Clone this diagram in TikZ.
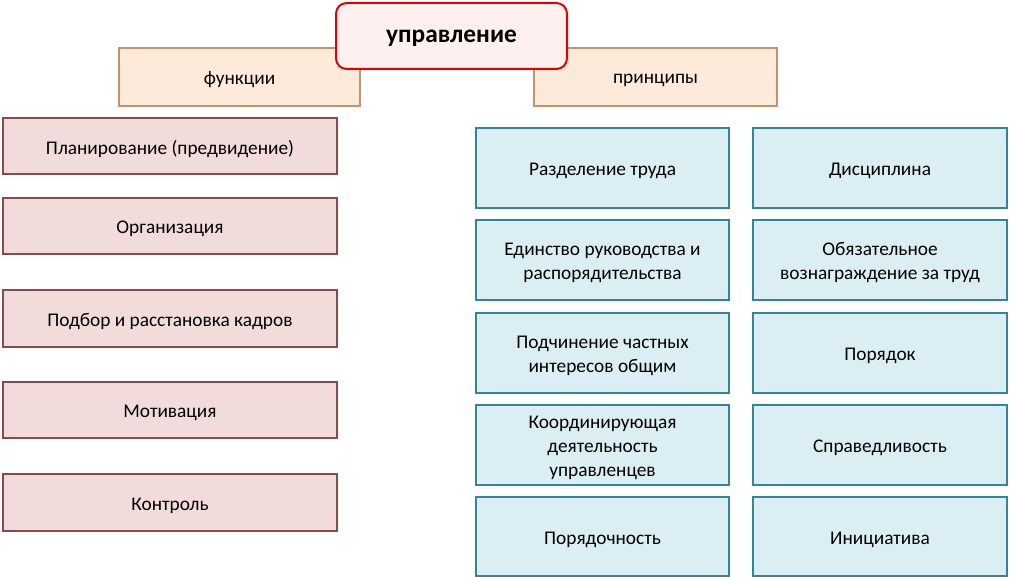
\documentclass[tikz,border=0pt]{standalone}
\usepackage{fontspec}
\setmainfont{Carlito}
\definecolor{fpink}{HTML}{F2DCDB}
\definecolor{fpinkd}{HTML}{8C4A4A}
\definecolor{horg}{HTML}{FDEADA}
\definecolor{horgd}{HTML}{C0946B}
\definecolor{pbl}{HTML}{DBEEF3}
\definecolor{pbld}{HTML}{31859C}
\begin{document}
\begin{tikzpicture}[x=0.75pt,y=-0.75pt,
 fbox/.style={draw=fpinkd,fill=fpink,line width=0.8pt},
 pbox/.style={draw=pbld,fill=pbl,line width=0.8pt},
 hbox/.style={draw=horgd,fill=horg,line width=0.8pt}]
\useasboundingbox (0,0) rectangle (1010,577);
\def\bx#1#2#3#4#5#6#7{\draw[#1] (#3,#4) rectangle (#5,#6); \node[font=\fontsize{14.5}{18}\selectfont,align=center] (#2) at ({(#3+#5)/2},{(#4+#6)/2+3}) {#7};}
\bx{hbox}{f}{119}{48}{360}{106}{функции}
\bx{hbox}{p}{534}{48}{777}{106}{принципы}
\draw[draw=red!90!black,fill=red!6,line width=1.5pt,rounded corners=8pt] (336,3) rectangle (567,69);
\node[font=\fontsize{19}{22}\selectfont\bfseries] (u) at (451.5,38) {управление};
\bx{fbox}{l1}{3}{118}{337}{174}{Планирование (предвидение)}
\bx{fbox}{l2}{3}{198}{337}{254}{Организация}
\bx{fbox}{l3}{3}{290}{337}{347}{Подбор и расстановка кадров}
\bx{fbox}{l4}{3}{382}{337}{438}{Мотивация}
\bx{fbox}{l5}{3}{474}{337}{531}{Контроль}
\bx{pbox}{a1}{476}{128}{729}{208}{Разделение труда}
\bx{pbox}{a2}{476}{220}{729}{300}{Единство руководства и\\распорядительства}
\bx{pbox}{a3}{476}{313}{729}{393}{Подчинение частных\\интересов общим}
\bx{pbox}{a4}{476}{405}{729}{485}{Координирующая\\деятельность\\управленцев}
\bx{pbox}{a5}{476}{497}{729}{576}{Порядочность}
\bx{pbox}{b1}{753}{128}{1007}{208}{Дисциплина}
\bx{pbox}{b2}{753}{220}{1007}{300}{Обязательное\\вознаграждение за труд}
\bx{pbox}{b3}{753}{313}{1007}{393}{Порядок}
\bx{pbox}{b4}{753}{405}{1007}{485}{Справедливость}
\bx{pbox}{b5}{753}{497}{1007}{576}{Инициатива}
\end{tikzpicture}
\end{document}
